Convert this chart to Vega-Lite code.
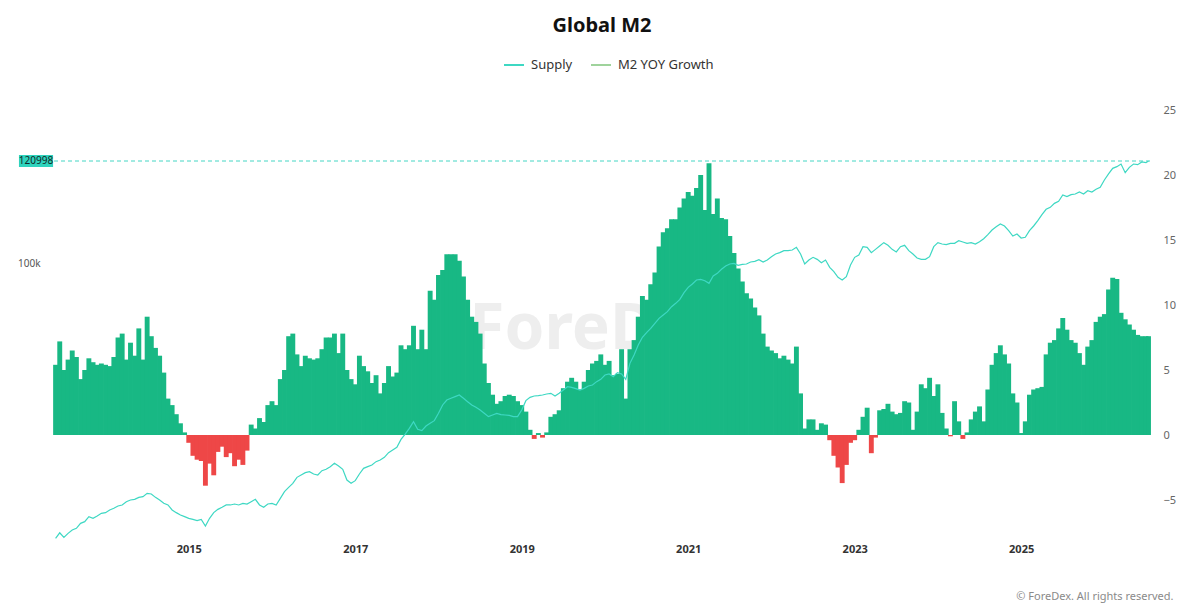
{
  "$schema": "https://vega.github.io/schema/vega-lite/v6.json",
  "width": 1106,
  "height": 440,
  "autosize": {"type": "none"},
  "padding": {"left": 49, "top": 105, "right": 44, "bottom": 63},
  "background": "white",
  "config": {
    "font": "Noto Sans",
    "view": {"stroke": null},
    "axis": {"grid": false, "domain": false, "ticks": false}
  },
  "title": {
    "text": "Global M2",
    "fontSize": 20,
    "fontWeight": "bold",
    "color": "#111111",
    "anchor": "middle",
    "offset": 18
  },
  "data": {
    "values": [
      {"t": 2013.40, "s": 43310, "g": 5.4},
      {"t": 2013.45, "s": 44450, "g": 7.2},
      {"t": 2013.50, "s": 43500, "g": 5.0},
      {"t": 2013.55, "s": 44340, "g": 5.8},
      {"t": 2013.60, "s": 45030, "g": 6.5},
      {"t": 2013.65, "s": 45370, "g": 6.0},
      {"t": 2013.70, "s": 46400, "g": 4.3},
      {"t": 2013.75, "s": 46740, "g": 5.0},
      {"t": 2013.80, "s": 47770, "g": 5.9},
      {"t": 2013.85, "s": 47430, "g": 5.6},
      {"t": 2013.90, "s": 47910, "g": 5.4},
      {"t": 2013.95, "s": 48460, "g": 5.5},
      {"t": 2014.00, "s": 48600, "g": 5.4},
      {"t": 2014.05, "s": 49150, "g": 5.3},
      {"t": 2014.10, "s": 49490, "g": 6.0},
      {"t": 2014.15, "s": 49970, "g": 7.5},
      {"t": 2014.20, "s": 50180, "g": 7.8},
      {"t": 2014.25, "s": 50860, "g": 5.8},
      {"t": 2014.30, "s": 51200, "g": 7.1},
      {"t": 2014.35, "s": 51340, "g": 6.1},
      {"t": 2014.40, "s": 51750, "g": 8.2},
      {"t": 2014.45, "s": 51890, "g": 5.8},
      {"t": 2014.50, "s": 52580, "g": 9.1},
      {"t": 2014.55, "s": 52440, "g": 7.6},
      {"t": 2014.60, "s": 51750, "g": 6.7},
      {"t": 2014.65, "s": 51200, "g": 6.1},
      {"t": 2014.70, "s": 50520, "g": 4.8},
      {"t": 2014.75, "s": 50180, "g": 2.8},
      {"t": 2014.80, "s": 49150, "g": 2.3},
      {"t": 2014.85, "s": 48600, "g": 1.6},
      {"t": 2014.90, "s": 48120, "g": 0.9},
      {"t": 2014.95, "s": 47770, "g": 0.2},
      {"t": 2015.00, "s": 47430, "g": -0.6},
      {"t": 2015.05, "s": 47220, "g": -1.6},
      {"t": 2015.10, "s": 46950, "g": -1.9},
      {"t": 2015.15, "s": 47220, "g": -2.0},
      {"t": 2015.20, "s": 45850, "g": -3.9},
      {"t": 2015.25, "s": 47430, "g": -2.2},
      {"t": 2015.30, "s": 48600, "g": -3.1},
      {"t": 2015.35, "s": 49280, "g": -1.3},
      {"t": 2015.40, "s": 49700, "g": -0.9},
      {"t": 2015.45, "s": 50180, "g": -1.7},
      {"t": 2015.50, "s": 50180, "g": -1.4},
      {"t": 2015.55, "s": 50380, "g": -2.4},
      {"t": 2015.60, "s": 50180, "g": -1.9},
      {"t": 2015.65, "s": 50520, "g": -2.3},
      {"t": 2015.70, "s": 50380, "g": -1.2},
      {"t": 2015.75, "s": 50860, "g": 0.8},
      {"t": 2015.80, "s": 51340, "g": 0.5},
      {"t": 2015.85, "s": 50180, "g": 1.3},
      {"t": 2015.90, "s": 49700, "g": 1.0},
      {"t": 2015.95, "s": 50380, "g": 2.3},
      {"t": 2016.00, "s": 50520, "g": 2.6},
      {"t": 2016.05, "s": 50180, "g": 2.3},
      {"t": 2016.10, "s": 51550, "g": 4.3},
      {"t": 2016.15, "s": 52920, "g": 5.0},
      {"t": 2016.20, "s": 53810, "g": 7.6},
      {"t": 2016.25, "s": 54640, "g": 7.8},
      {"t": 2016.30, "s": 55870, "g": 6.2},
      {"t": 2016.35, "s": 56350, "g": 5.3},
      {"t": 2016.40, "s": 56830, "g": 6.1},
      {"t": 2016.45, "s": 57040, "g": 5.9},
      {"t": 2016.50, "s": 56560, "g": 5.8},
      {"t": 2016.55, "s": 56350, "g": 5.9},
      {"t": 2016.60, "s": 57240, "g": 6.6},
      {"t": 2016.65, "s": 57520, "g": 7.5},
      {"t": 2016.70, "s": 58070, "g": 7.5},
      {"t": 2016.75, "s": 58750, "g": 7.8},
      {"t": 2016.80, "s": 58200, "g": 6.3},
      {"t": 2016.85, "s": 57520, "g": 7.8},
      {"t": 2016.90, "s": 55320, "g": 5.0},
      {"t": 2016.95, "s": 54640, "g": 4.3},
      {"t": 2017.00, "s": 55190, "g": 3.9},
      {"t": 2017.05, "s": 56560, "g": 6.1},
      {"t": 2017.10, "s": 57720, "g": 5.3},
      {"t": 2017.15, "s": 58070, "g": 4.9},
      {"t": 2017.20, "s": 58410, "g": 4.0},
      {"t": 2017.25, "s": 59100, "g": 4.6},
      {"t": 2017.30, "s": 59440, "g": 3.2},
      {"t": 2017.35, "s": 59990, "g": 4.0},
      {"t": 2017.40, "s": 60950, "g": 5.3},
      {"t": 2017.45, "s": 61500, "g": 4.5},
      {"t": 2017.50, "s": 62050, "g": 4.8},
      {"t": 2017.55, "s": 63690, "g": 6.9},
      {"t": 2017.60, "s": 64790, "g": 6.6},
      {"t": 2017.65, "s": 65960, "g": 6.9},
      {"t": 2017.70, "s": 67330, "g": 8.4},
      {"t": 2017.75, "s": 65750, "g": 6.6},
      {"t": 2017.80, "s": 65480, "g": 8.1},
      {"t": 2017.85, "s": 66440, "g": 6.6},
      {"t": 2017.90, "s": 66990, "g": 11.1},
      {"t": 2017.95, "s": 67540, "g": 10.4},
      {"t": 2018.00, "s": 69050, "g": 12.3},
      {"t": 2018.05, "s": 70770, "g": 12.7},
      {"t": 2018.10, "s": 71790, "g": 13.9},
      {"t": 2018.15, "s": 72140, "g": 13.9},
      {"t": 2018.20, "s": 72480, "g": 13.9},
      {"t": 2018.25, "s": 72820, "g": 13.4},
      {"t": 2018.30, "s": 72140, "g": 12.2},
      {"t": 2018.35, "s": 71450, "g": 10.4},
      {"t": 2018.40, "s": 70770, "g": 9.1},
      {"t": 2018.45, "s": 70280, "g": 8.7},
      {"t": 2018.50, "s": 69730, "g": 7.8},
      {"t": 2018.55, "s": 69050, "g": 5.5},
      {"t": 2018.60, "s": 68360, "g": 4.0},
      {"t": 2018.65, "s": 68710, "g": 3.1},
      {"t": 2018.70, "s": 69050, "g": 2.4},
      {"t": 2018.75, "s": 68770, "g": 2.6},
      {"t": 2018.80, "s": 68710, "g": 3.0},
      {"t": 2018.85, "s": 68640, "g": 3.1},
      {"t": 2018.90, "s": 68360, "g": 3.0},
      {"t": 2018.95, "s": 68360, "g": 2.6},
      {"t": 2019.00, "s": 69730, "g": 2.3},
      {"t": 2019.05, "s": 71660, "g": 1.8},
      {"t": 2019.10, "s": 72340, "g": 0.4},
      {"t": 2019.15, "s": 72620, "g": -0.3},
      {"t": 2019.20, "s": 72690, "g": 0.15},
      {"t": 2019.25, "s": 72820, "g": -0.2},
      {"t": 2019.30, "s": 73030, "g": 0.2},
      {"t": 2019.35, "s": 73170, "g": 1.4},
      {"t": 2019.40, "s": 72620, "g": 1.6},
      {"t": 2019.45, "s": 73170, "g": 1.9},
      {"t": 2019.50, "s": 73850, "g": 3.6},
      {"t": 2019.55, "s": 74540, "g": 4.1},
      {"t": 2019.60, "s": 74400, "g": 4.4},
      {"t": 2019.65, "s": 74130, "g": 4.1},
      {"t": 2019.70, "s": 73850, "g": 3.5},
      {"t": 2019.75, "s": 74190, "g": 4.1},
      {"t": 2019.80, "s": 74680, "g": 5.0},
      {"t": 2019.85, "s": 74880, "g": 5.5},
      {"t": 2019.90, "s": 75570, "g": 5.7},
      {"t": 2019.95, "s": 76050, "g": 6.2},
      {"t": 2020.00, "s": 76940, "g": 5.4},
      {"t": 2020.05, "s": 77150, "g": 5.7},
      {"t": 2020.10, "s": 76600, "g": 4.6},
      {"t": 2020.15, "s": 77420, "g": 4.7},
      {"t": 2020.20, "s": 77150, "g": 6.6},
      {"t": 2020.25, "s": 76050, "g": 2.8},
      {"t": 2020.30, "s": 79340, "g": 6.6},
      {"t": 2020.35, "s": 81060, "g": 7.3},
      {"t": 2020.40, "s": 83120, "g": 9.1},
      {"t": 2020.45, "s": 84700, "g": 10.7},
      {"t": 2020.50, "s": 85660, "g": 10.4},
      {"t": 2020.55, "s": 86550, "g": 11.6},
      {"t": 2020.60, "s": 87580, "g": 12.5},
      {"t": 2020.65, "s": 88610, "g": 14.5},
      {"t": 2020.70, "s": 89290, "g": 15.6},
      {"t": 2020.75, "s": 89980, "g": 15.9},
      {"t": 2020.80, "s": 91010, "g": 16.6},
      {"t": 2020.85, "s": 91700, "g": 16.6},
      {"t": 2020.90, "s": 92520, "g": 17.5},
      {"t": 2020.95, "s": 93890, "g": 18.2},
      {"t": 2021.00, "s": 94990, "g": 18.7},
      {"t": 2021.05, "s": 95680, "g": 18.4},
      {"t": 2021.10, "s": 96500, "g": 19.0},
      {"t": 2021.15, "s": 96640, "g": 20.0},
      {"t": 2021.20, "s": 96360, "g": 17.3},
      {"t": 2021.25, "s": 95810, "g": 20.9},
      {"t": 2021.30, "s": 97320, "g": 17.0},
      {"t": 2021.35, "s": 97870, "g": 18.2},
      {"t": 2021.40, "s": 98700, "g": 16.7},
      {"t": 2021.45, "s": 99380, "g": 16.6},
      {"t": 2021.50, "s": 99790, "g": 15.3},
      {"t": 2021.55, "s": 99930, "g": 14.0},
      {"t": 2021.60, "s": 99520, "g": 12.8},
      {"t": 2021.65, "s": 99730, "g": 11.8},
      {"t": 2021.70, "s": 99790, "g": 10.9},
      {"t": 2021.75, "s": 100210, "g": 10.5},
      {"t": 2021.80, "s": 100340, "g": 9.8},
      {"t": 2021.85, "s": 100690, "g": 9.2},
      {"t": 2021.90, "s": 100210, "g": 7.8},
      {"t": 2021.95, "s": 100620, "g": 6.8},
      {"t": 2022.00, "s": 101300, "g": 6.5},
      {"t": 2022.05, "s": 101850, "g": 6.3},
      {"t": 2022.10, "s": 102130, "g": 5.9},
      {"t": 2022.15, "s": 102540, "g": 6.1},
      {"t": 2022.20, "s": 102540, "g": 5.8},
      {"t": 2022.25, "s": 102680, "g": 5.5},
      {"t": 2022.30, "s": 103230, "g": 6.8},
      {"t": 2022.35, "s": 101850, "g": 3.2},
      {"t": 2022.40, "s": 99790, "g": 0.5},
      {"t": 2022.45, "s": 100620, "g": 1.2},
      {"t": 2022.50, "s": 101170, "g": 1.2},
      {"t": 2022.55, "s": 100750, "g": 0.4},
      {"t": 2022.60, "s": 100070, "g": 0.9},
      {"t": 2022.65, "s": 100620, "g": 0.8},
      {"t": 2022.70, "s": 99110, "g": -0.4},
      {"t": 2022.75, "s": 98220, "g": -1.6},
      {"t": 2022.80, "s": 97050, "g": -2.5},
      {"t": 2022.85, "s": 96500, "g": -3.7},
      {"t": 2022.90, "s": 97190, "g": -2.3},
      {"t": 2022.95, "s": 99590, "g": -0.6},
      {"t": 2023.00, "s": 101170, "g": -0.4},
      {"t": 2023.05, "s": 101650, "g": 0.4},
      {"t": 2023.10, "s": 103360, "g": 1.4},
      {"t": 2023.15, "s": 103230, "g": 2.1},
      {"t": 2023.20, "s": 102130, "g": -1.4},
      {"t": 2023.25, "s": 102810, "g": -0.2},
      {"t": 2023.30, "s": 103500, "g": 1.9},
      {"t": 2023.35, "s": 104190, "g": 2.0},
      {"t": 2023.40, "s": 103640, "g": 2.4},
      {"t": 2023.45, "s": 102810, "g": 1.8},
      {"t": 2023.50, "s": 102270, "g": 1.6},
      {"t": 2023.55, "s": 103360, "g": 1.7},
      {"t": 2023.60, "s": 103640, "g": 2.6},
      {"t": 2023.65, "s": 102540, "g": 2.5},
      {"t": 2023.70, "s": 101850, "g": 0.4},
      {"t": 2023.75, "s": 101030, "g": 1.8},
      {"t": 2023.80, "s": 100750, "g": 3.9},
      {"t": 2023.85, "s": 100750, "g": 3.6},
      {"t": 2023.90, "s": 101300, "g": 4.4},
      {"t": 2023.95, "s": 103360, "g": 3.0},
      {"t": 2024.00, "s": 104190, "g": 3.9},
      {"t": 2024.05, "s": 103910, "g": 1.7},
      {"t": 2024.10, "s": 103770, "g": 0.5},
      {"t": 2024.15, "s": 104050, "g": -0.1},
      {"t": 2024.20, "s": 104050, "g": 2.6},
      {"t": 2024.25, "s": 104600, "g": 1.05},
      {"t": 2024.30, "s": 104320, "g": -0.3},
      {"t": 2024.35, "s": 104050, "g": 0.2},
      {"t": 2024.40, "s": 104190, "g": 1.2},
      {"t": 2024.45, "s": 103910, "g": 1.8},
      {"t": 2024.50, "s": 104390, "g": 2.2},
      {"t": 2024.55, "s": 105010, "g": 1.05},
      {"t": 2024.60, "s": 105830, "g": 3.5},
      {"t": 2024.65, "s": 106790, "g": 5.4},
      {"t": 2024.70, "s": 107480, "g": 6.3},
      {"t": 2024.75, "s": 108030, "g": 6.9},
      {"t": 2024.80, "s": 107620, "g": 6.2},
      {"t": 2024.85, "s": 106660, "g": 5.5},
      {"t": 2024.90, "s": 105560, "g": 3.2},
      {"t": 2024.95, "s": 105970, "g": 2.5},
      {"t": 2025.00, "s": 105150, "g": 0.15},
      {"t": 2025.05, "s": 105290, "g": 1.05},
      {"t": 2025.10, "s": 106660, "g": 3.1},
      {"t": 2025.15, "s": 107620, "g": 3.5},
      {"t": 2025.20, "s": 108720, "g": 3.6},
      {"t": 2025.25, "s": 109950, "g": 3.7},
      {"t": 2025.30, "s": 111050, "g": 6.2},
      {"t": 2025.35, "s": 111460, "g": 7.1},
      {"t": 2025.40, "s": 112280, "g": 7.3},
      {"t": 2025.45, "s": 112700, "g": 8.2},
      {"t": 2025.50, "s": 114000, "g": 9.0},
      {"t": 2025.55, "s": 113660, "g": 8.1},
      {"t": 2025.60, "s": 114070, "g": 7.3},
      {"t": 2025.65, "s": 114210, "g": 7.1},
      {"t": 2025.70, "s": 114620, "g": 6.3},
      {"t": 2025.75, "s": 114210, "g": 5.4},
      {"t": 2025.80, "s": 114890, "g": 6.8},
      {"t": 2025.85, "s": 114620, "g": 7.3},
      {"t": 2025.90, "s": 115170, "g": 8.7},
      {"t": 2025.95, "s": 115580, "g": 9.1},
      {"t": 2026.00, "s": 117090, "g": 9.3},
      {"t": 2026.05, "s": 118330, "g": 11.2},
      {"t": 2026.10, "s": 119490, "g": 12.1},
      {"t": 2026.15, "s": 119840, "g": 12.0},
      {"t": 2026.20, "s": 120380, "g": 9.4},
      {"t": 2026.25, "s": 118600, "g": 8.9},
      {"t": 2026.30, "s": 119700, "g": 8.5},
      {"t": 2026.35, "s": 120380, "g": 8.1},
      {"t": 2026.40, "s": 120250, "g": 7.7},
      {"t": 2026.45, "s": 120800, "g": 7.6},
      {"t": 2026.50, "s": 120660, "g": 7.6},
      {"t": 2026.53, "s": 120998, "g": 7.6}
    ]
  },
  "encoding": {
    "x": {
      "field": "t",
      "type": "quantitative",
      "scale": {"domain": [2013.381, 2026.548], "nice": false, "zero": false},
      "axis": {
        "values": [2015, 2017, 2019, 2021, 2023, 2025],
        "format": "d",
        "labelFontWeight": "bold",
        "labelFontSize": 11,
        "labelColor": "#333333",
        "labelPadding": -2,
        "title": "© ForeDex. All rights reserved.",
        "titleFontWeight": "normal",
        "titleFontSize": 11,
        "titleColor": "#8a8a8a",
        "titleX": 1124,
        "titleY": 51,
        "titleAlign": "right",
        "titleBaseline": "middle"
      }
    }
  },
  "layer": [
    {
      "transform": [
        {"window": [{"op": "row_number", "as": "rank"}], "sort": [{"field": "t", "order": "descending"}]},
        {"filter": "datum.rank == 1"}
      ],
      "mark": {"type": "text", "fontSize": 64, "fontWeight": "bold", "color": "#eeeeee", "align": "center", "baseline": "middle", "text": "ForeDex"},
      "encoding": {
        "x": {"datum": 2019.94},
        "y": {
          "datum": 8.1,
          "scale": {"domain": [-8.4615, 25.385], "nice": false, "zero": false},
          "axis": null
        }
      }
    },
    {
      "mark": {"type": "bar", "size": 4.9, "stroke": null, "opacity": 1},
      "encoding": {
        "y": {
          "field": "g",
          "type": "quantitative",
          "title": null,
          "scale": {"domain": [-8.4615, 25.385], "nice": false, "zero": false},
          "axis": {
            "orient": "right",
            "values": [-5, 0, 5, 10, 15, 20, 25],
            "labelFontSize": 11,
            "labelColor": "#666666",
            "labelPadding": 8
          }
        },
        "color": {
          "condition": {"test": "datum.g < 0", "value": "#ee4747"},
          "value": "#18b884"
        }
      }
    },
    {
      "layer": [
        {
          "transform": [
            {"window": [{"op": "row_number", "as": "rank"}], "sort": [{"field": "t", "order": "descending"}]},
            {"filter": "datum.rank == 1"}
          ],
          "mark": {"type": "rule", "strokeDash": [4, 3], "strokeWidth": 1, "color": "#45d6c4"},
          "encoding": {
            "x": {"datum": 2013.381},
            "x2": {"datum": 2026.548},
            "y": {"field": "s", "type": "quantitative", "title": null}
          }
        },
        {
          "mark": {"type": "line", "strokeWidth": 1.2, "interpolate": "linear"},
          "encoding": {
            "y": {
              "field": "s",
              "type": "quantitative",
              "title": null,
              "scale": {"domain": [41939, 132531], "nice": false, "zero": false},
              "axis": {
                "orient": "left",
                "values": [100000],
                "format": "~s",
                "labelFontSize": 10,
                "labelColor": "#555555",
                "labelPadding": 9
              }
            },
            "stroke": {
              "datum": "Supply",
              "scale": {"domain": ["Supply", "M2 YOY Growth"], "range": ["#3ed8c3", "#9fd39c"]},
              "legend": {
                "orient": "none",
                "legendX": 454,
                "legendY": -51,
                "direction": "horizontal",
                "title": null,
                "symbolType": "stroke",
                "symbolSize": 400,
                "symbolStrokeWidth": 2,
                "labelFontSize": 13,
                "labelColor": "#333333",
                "labelOffset": 6,
                "columnPadding": 14
              }
            }
          }
        },
        {
          "transform": [
            {"window": [{"op": "row_number", "as": "rank"}], "sort": [{"field": "t", "order": "descending"}]},
            {"filter": "datum.rank == 1"}
          ],
          "mark": {"type": "rule", "strokeWidth": 12, "strokeCap": "butt", "color": "#2fd3bd"},
          "encoding": {
            "x": {"datum": 2012.96},
            "x2": {"datum": 2013.37},
            "y": {"field": "s", "type": "quantitative", "title": null}
          }
        },
        {
          "transform": [
            {"window": [{"op": "row_number", "as": "rank"}], "sort": [{"field": "t", "order": "descending"}]},
            {"filter": "datum.rank == 1"}
          ],
          "mark": {"type": "text", "fontSize": 10, "color": "#102a27", "align": "center", "baseline": "middle"},
          "encoding": {
            "x": {"datum": 2013.165},
            "y": {"field": "s", "type": "quantitative", "title": null},
            "text": {"field": "s", "type": "quantitative", "format": "d"}
          }
        }
      ]
    }
  ],
  "resolve": {"scale": {"y": "independent"}}
}
